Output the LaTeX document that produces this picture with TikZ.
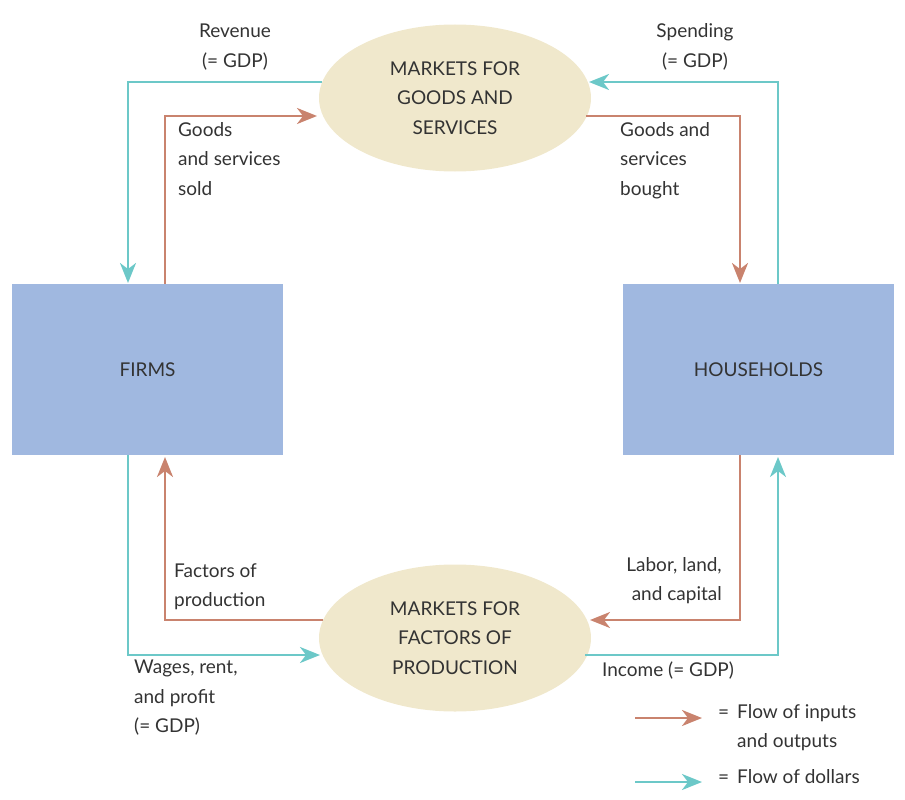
\documentclass[tikz,border=0pt]{standalone}
\usepackage{fontspec}
\setmainfont{Lato}
\usetikzlibrary{arrows.meta,shapes.geometric}
\definecolor{org}{HTML}{C9836E}
\definecolor{tea}{HTML}{6CC8C8}
\definecolor{ell}{HTML}{F0E8CC}
\definecolor{box}{HTML}{A0B8E0}
\definecolor{txt}{HTML}{333333}
\begin{document}
\begin{tikzpicture}[x=1pt,y=-1pt,
  txtf/.style={text=txt,font=\fontsize{19}{29.5}\selectfont,inner sep=0pt},
  mk/.style={ellipse,fill=ell,minimum width=272pt,minimum height=147pt,align=center,txtf},
  ag/.style={rectangle,fill=box,minimum width=271pt,minimum height=171pt,txtf},
  lab/.style={txtf,align=left},
  fo/.style={draw=org,line width=2.4pt,-{Stealth[length=20pt,width=16pt,inset=6pt]}},
  fd/.style={draw=tea,line width=2.4pt,-{Stealth[length=20pt,width=16pt,inset=6pt]}}]
\useasboundingbox (0,0) rectangle (905,800);
\node[mk] (gm) at (455,98) {MARKETS FOR\\GOODS AND\\SERVICES};
\node[mk] (fm) at (455,638) {MARKETS FOR\\FACTORS OF\\PRODUCTION};
\node[ag] (firms) at (147.5,369.5) {FIRMS};
\node[ag] (hh) at (758.5,369.5) {HOUSEHOLDS};
% top left
\coordinate (a1) at (128,82); \coordinate (a2) at (128,283);
\draw[fd] (gm.west |- a1) ++(3,0) -- (a1) -- (a2);
\coordinate (b1) at (165,116); \coordinate (b2) at (317,116);
\draw[fo] (firms.north -| b1) -- (b1) -- (b2);
% top right
\coordinate (c1) at (740,116); \coordinate (c2) at (740,283);
\draw[fo] (586,116) -- (c1) -- (c2);
\coordinate (d1) at (778,82); \coordinate (d2) at (589,82);
\draw[fd] (hh.north -| d1) -- (d1) -- (d2);
% bottom left
\coordinate (e1) at (128,655); \coordinate (e2) at (320,655);
\draw[fd] (firms.south -| e1) -- (e1) -- (e2);
\coordinate (f1) at (165,620); \coordinate (f2) at (165,457);
\draw[fo] (323,620) -- (f1) -- (f2);
% bottom right
\coordinate (g1) at (740,620); \coordinate (g2) at (590,620);
\draw[fo] (hh.south -| g1) -- (g1) -- (g2);
\coordinate (h1) at (778,655); \coordinate (h2) at (778,457);
\draw[fd] (585,655) -- (h1) -- (h2);
% labels
\node[lab,align=center] (l1) at (235,47) {Revenue\\(= GDP)};
\node[lab,align=center] (l2) at (695,47) {Spending\\(= GDP)};
\node[lab,anchor=north west] (l3) at (178,122) {Goods\\and services\\sold};
\node[lab,anchor=north west] (l4) at (620,122) {Goods and\\services\\bought};
\node[lab,anchor=north west] (l5) at (174,563) {Factors of\\production};
\node[lab,anchor=north east,align=right] (l6) at (722,557) {Labor, land,\\and capital};
\node[lab,anchor=north west] (l7) at (134,660) {Wages, rent,\\and profit\\(= GDP)};
\node[lab,anchor=north west] (l8) at (602,662) {Income (= GDP)};
% legend
\coordinate (k1) at (635,718); \coordinate (k2) at (702,718);
\draw[fo] (k1) -- (k2);
\coordinate (k3) at (635,782); \coordinate (k4) at (702,782);
\draw[fd] (k3) -- (k4);
\node[lab,anchor=north west] (le1) at (718,704) {=\hspace{8pt}Flow of inputs\\\phantom{=}\hspace{8pt}and outputs};
\node[lab,anchor=north west] (le2) at (718,769) {=\hspace{8pt}Flow of dollars};
\end{tikzpicture}
\end{document}
